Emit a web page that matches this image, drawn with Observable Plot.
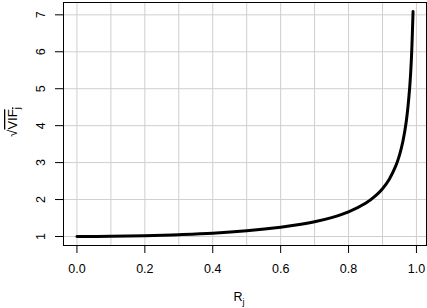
<!DOCTYPE html>
<html><head><meta charset="utf-8">
<script src="https://cdn.jsdelivr.net/npm/d3@7"></script>
<script src="https://cdn.jsdelivr.net/npm/@observablehq/plot@0.6"></script>
<style>body{margin:0;background:#fff}</style>
</head><body><div id="chart"></div>
<script>
const rj = [0, 0.1, 0.2, 0.3, 0.4, 0.5, 0.6, 0.65, 0.7, 0.75, 0.8, 0.85, 0.88, 0.9, 0.92, 0.94, 0.95, 0.96, 0.97, 0.98, 0.985, 0.99];
const sqrtVif = [1.00, 1.005, 1.02, 1.05, 1.09, 1.155, 1.25, 1.316, 1.40, 1.512, 1.667, 1.898, 2.105, 2.294, 2.552, 2.931, 3.203, 3.571, 4.113, 5.025, 5.783, 7.089];
const xTicks = [0, 0.2, 0.4, 0.6, 0.8, 1.0];
const xGrid = [0, 0.1, 0.2, 0.3, 0.4, 0.5, 0.6, 0.7, 0.8, 0.9, 1.0];
const yTicks = [1, 2, 3, 4, 5, 6, 7];
const data = rj.map((r, i) => ({r, v: sqrtVif[i]}));

const chart = Plot.plot({
  width: 427, height: 308,
  marginLeft: 63, marginRight: 1, marginTop: 2, marginBottom: 63,
  style: {fontFamily: "Liberation Sans, Arial, sans-serif", fontSize: "12.5px", background: "#fff"},
  x: {domain: [-0.0396, 1.0296]},
  y: {domain: [0.756, 7.334]},
  marks: [
    Plot.gridX(xGrid, {stroke: "#cfcfcf", strokeOpacity: 1, strokeWidth: 1}),
    Plot.gridY(yTicks, {stroke: "#cfcfcf", strokeOpacity: 1, strokeWidth: 1}),
    Plot.line(data, {x: "r", y: "v", stroke: "#000", strokeWidth: 3, curve: "catmull-rom"}),
    Plot.frame({stroke: "#000", strokeWidth: 1}),
    Plot.axisX(xTicks, {tickSize: 8, tickPadding: 11, tickFormat: d3.format(".1f"), label: null, fill: "#000", fontSize: 12.5}),
    Plot.axisY(yTicks, {tickSize: 8, tickPadding: 11, tickRotate: -90, label: null, fill: "#000", fontSize: 12.5})
  ]
});
const svg = d3.select(chart);
// y axis title: sqrt(VIF_j)
const yt = svg.append("text")
  .attr("transform", "translate(17,122) rotate(-90)")
  .attr("text-anchor", "middle")
  .attr("font-family", "Liberation Sans, Arial, sans-serif")
  .attr("font-size", 13)
  .attr("fill", "#000");
yt.append("tspan").text("\u221A");
yt.append("tspan").attr("text-decoration", "overline").text("VIF");
yt.append("tspan").attr("text-decoration", "overline").attr("font-size", 9).attr("dy", 3).text("j");
// x axis title: R_j
const xt = svg.append("text")
  .attr("x", 239).attr("y", 301)
  .attr("text-anchor", "middle")
  .attr("font-family", "Liberation Sans, Arial, sans-serif")
  .attr("font-size", 12.5)
  .attr("fill", "#000");
xt.append("tspan").text("R");
xt.append("tspan").attr("font-size", 9).attr("dy", 4).text("j");
document.getElementById("chart").appendChild(chart);
</script>
</body></html>
